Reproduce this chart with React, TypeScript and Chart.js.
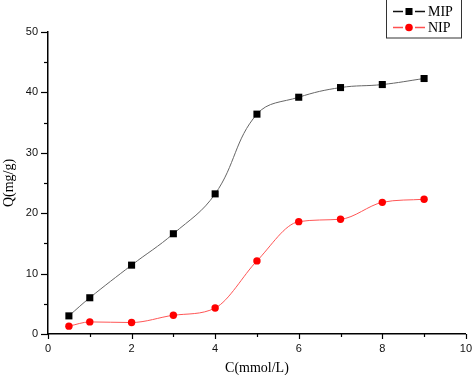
import React, { useEffect, useRef } from "react";
import { Chart, registerables } from "chart.js";

Chart.register(...registerables);

const concentrations = [0.5, 1, 2, 3, 4, 5, 6, 7, 8, 9];
const mipValues = [3.0, 6.0, 11.4, 16.6, 23.2, 36.4, 39.2, 40.8, 41.3, 42.3];
const nipValues = [1.3, 2.0, 1.9, 3.1, 4.3, 12.1, 18.6, 19.0, 21.8, 22.3];
const seriesNames = ["MIP", "NIP"];
const xTickLabels = ["0", "2", "4", "6", "8", "10"];
const yTickLabels = ["0", "10", "20", "30", "40", "50"];
const xTitle = "C(mmol/L)";
const yTitle = "Q(mg/g)";

const tickMarks = {
  id: "tickMarks",
  afterDraw(chart: any) {
    const ctx = chart.ctx;
    const xs = chart.scales.x;
    const ys = chart.scales.y;
    const area = chart.chartArea;
    ctx.save();
    ctx.strokeStyle = "#000";
    ctx.lineWidth = 1.2;
    for (let v = 0; v <= 10; v += 1) {
      const px = Math.round(xs.getPixelForValue(v)) + 0.5;
      const len = v % 2 === 0 ? 5 : 3;
      ctx.beginPath();
      ctx.moveTo(px, area.bottom);
      ctx.lineTo(px, area.bottom + len);
      ctx.stroke();
    }
    for (let v = 0; v <= 50; v += 5) {
      const py = Math.round(ys.getPixelForValue(v)) + 0.5;
      const len = v % 10 === 0 ? 7 : 4;
      ctx.beginPath();
      ctx.moveTo(area.left, py);
      ctx.lineTo(area.left - len, py);
      ctx.stroke();
    }
    ctx.restore();
  },
};

const boxLegend = {
  id: "boxLegend",
  afterDraw(chart: any) {
    const ctx = chart.ctx;
    ctx.save();
    ctx.strokeStyle = "#333";
    ctx.lineWidth = 1;
    ctx.strokeRect(386.5, -1, 75, 39);
    const rows = [
      { y: 11, color: "#000", line: "#111", shape: "rect", label: seriesNames[0] },
      { y: 27, color: "#ff0000", line: "#ff5050", shape: "circle", label: seriesNames[1] },
    ];
    rows.forEach((r) => {
      ctx.strokeStyle = r.line;
      ctx.lineWidth = 1.3;
      ctx.beginPath();
      ctx.moveTo(393, r.y + 0.5);
      ctx.lineTo(403, r.y + 0.5);
      ctx.moveTo(415, r.y + 0.5);
      ctx.lineTo(425, r.y + 0.5);
      ctx.stroke();
      ctx.fillStyle = r.color;
      if (r.shape === "rect") {
        ctx.fillRect(405.5, r.y - 3, 7, 7);
      } else {
        ctx.beginPath();
        ctx.arc(409, r.y + 0.5, 3.8, 0, Math.PI * 2);
        ctx.fill();
      }
      ctx.fillStyle = "#000";
      ctx.font = '14px "Liberation Serif"';
      ctx.textBaseline = "middle";
      ctx.textAlign = "left";
      ctx.fillText(r.label, 428, r.y + 1);
    });
    ctx.restore();
  },
};

export default function App() {
  const ref = useRef<HTMLCanvasElement | null>(null);
  useEffect(() => {
    document.body.style.margin = "0";
    const chart = new Chart(ref.current as HTMLCanvasElement, {
      type: "line",
      data: {
        datasets: [
          {
            label: seriesNames[0],
            data: concentrations.map((x, i) => ({ x, y: mipValues[i] })),
            borderColor: "#666",
            borderWidth: 1,
            pointStyle: "rect",
            pointRadius: 5,
            pointBackgroundColor: "#000",
            pointBorderWidth: 0,
            tension: 0.4,
          },
          {
            label: seriesNames[1],
            data: concentrations.map((x, i) => ({ x, y: nipValues[i] })),
            borderColor: "#ff5555",
            borderWidth: 1,
            pointStyle: "circle",
            pointRadius: 3.7,
            pointBackgroundColor: "#ff0000",
            pointBorderWidth: 0,
            cubicInterpolationMode: "monotone",
          },
        ],
      },
      options: {
        animation: false,
        responsive: false,
        layout: { padding: { top: 32, right: 7, left: 0, bottom: 0 } },
        plugins: { legend: { display: false }, tooltip: { enabled: false } },
        scales: {
          x: {
            type: "linear",
            min: 0,
            max: 10,
            afterFit: (s: any) => {
              s.height = 41;
            },
            afterBuildTicks: (s: any) => {
              s.ticks = xTickLabels.map((t) => ({ value: Number(t) }));
            },
            ticks: {
              callback: (v: any) => String(v),
              font: { family: '"Liberation Sans"', size: 11 },
              color: "#111",
              padding: 2,
              maxRotation: 0,
            },
            grid: { display: true, drawOnChartArea: false, tickLength: 6, tickColor: "rgba(0,0,0,0)" },
            border: { display: true, color: "#000", width: 1.5 },
            title: {
              display: true,
              text: xTitle,
              font: { family: '"Liberation Serif"', size: 14, lineHeight: 1 },
              color: "#000",
              padding: { top: 0, bottom: 0 },
            },
          },
          y: {
            type: "linear",
            min: 0,
            max: 50,
            afterFit: (s: any) => {
              s.width = 48;
            },
            afterBuildTicks: (s: any) => {
              s.ticks = yTickLabels.map((t) => ({ value: Number(t) }));
            },
            ticks: {
              callback: (v: any) => String(v),
              font: { family: '"Liberation Sans"', size: 11 },
              color: "#111",
              padding: 3,
            },
            grid: { display: true, drawOnChartArea: false, tickLength: 7, tickColor: "rgba(0,0,0,0)" },
            border: { display: true, color: "#000", width: 1.5 },
            title: {
              display: true,
              text: yTitle,
              font: { family: '"Liberation Serif"', size: 14, lineHeight: 1 },
              color: "#000",
              padding: { top: 2, bottom: 0 },
            },
          },
        },
      },
      plugins: [tickMarks, boxLegend],
    } as any);
    return () => chart.destroy();
  }, []);
  return (
    <div style={{ position: "fixed", left: 0, top: 0, width: 474, height: 375, background: "#fff" }}>
      <canvas ref={ref} width={474} height={375} style={{ width: 474, height: 375 }} />
    </div>
  );
}
